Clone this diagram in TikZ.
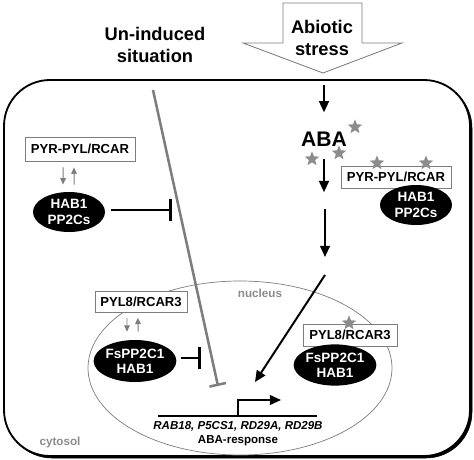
\documentclass[tikz,border=0pt]{standalone}
\usepackage{fontspec}
\setmainfont{Liberation Sans}
\usetikzlibrary{arrows.meta,shapes.geometric}
\definecolor{stargray}{RGB}{140,140,140}
\definecolor{linegray}{RGB}{125,125,125}
\begin{document}
\begin{tikzpicture}[x=0.025cm,y=-0.025cm,
  box/.style={draw=linegray,fill=white,line width=0.6pt,inner sep=0pt,
    font=\fontsize{9.3}{10}\selectfont\bfseries},
  pptwoc/.style={ellipse,fill=black,text=white,inner sep=0pt,align=center,
    font=\fontsize{9.6}{10.8}\selectfont\bfseries},
  abastar/.style={star,star points=5,star point ratio=2.3,fill=stargray,
    draw=none,minimum size=0.38cm,inner sep=0pt},
  flow/.style={-{Triangle[length=8pt,width=7pt]},line width=1.4pt},
  block/.style={-{Bar[width=15pt,line width=1.8pt]},line width=1.6pt},
  swap/.style={-{Triangle[length=4.5pt,width=4pt]},linegray,line width=0.7pt},
  place/.style={font=\fontsize{8.3}{9}\selectfont\bfseries,text=stargray}]
\useasboundingbox (0,0) rectangle (474,460);
%\draw[style=help lines,step=0.25cm] (0,0) grid (474,460);

% abiotic stress arrow
\draw[linegray,line width=0.6pt,fill=white] (283,3)--(362,3)--(362,43)--(402,43)
  --(323,73)--(243,43)--(283,43)--cycle;
\node[align=center,font=\fontsize{13}{15.5}\selectfont\bfseries] (stress) at (322,38) {Abiotic\\stress};
\node[align=center,font=\fontsize{13}{15.5}\selectfont\bfseries] (uninduced) at (155,45) {Un-induced\\situation};

% cell
\draw[fill=black,rounded corners=1.15cm] (6,82) rectangle (472,458);
\draw[fill=white,line width=1.3pt,rounded corners=1.15cm] (4,80) rectangle (470,456);
\node[place] (cytosol) at (60,442) {cytosol};

% nucleus
\draw[linegray,line width=0.5pt] (240,368) ellipse [x radius=152, y radius=87];
\node[place,anchor=west] (nucleus) at (233,293) {nucleus};

% un-induced: left side
\node[box,minimum width=2.75cm,minimum height=0.6cm] (pyrL) at (80,149) {PYR-PYL/RCAR};
\node[pptwoc,minimum width=1.8cm,minimum height=1cm] (habL) at (69,212) {HAB1\\PP2Cs};
\draw[swap] ([xshift=-0.42cm,yshift=-0.15cm]pyrL.south) -- ([xshift=-0.15cm,yshift=0.18cm]habL.north);
\draw[swap] ([xshift=0.13cm,yshift=0.18cm]habL.north) -- ([xshift=-0.15cm,yshift=-0.15cm]pyrL.south);
\coordinate (stopL) at (172,210);
\draw[block] ([xshift=0.15cm]habL.east |- stopL) -- (stopL);

\node[box,minimum width=2.3cm,minimum height=0.53cm] (pylL) at (141,302) {PYL8/RCAR3};
\node[pptwoc,minimum width=1.68cm,minimum height=1.05cm] (fsL) at (135,361) {FsPP2C1\\HAB1};
\draw[swap] ([xshift=-0.35cm,yshift=-0.12cm]pylL.south) -- ([xshift=-0.2cm,yshift=0.2cm]fsL.north);
\draw[swap] ([xshift=0.08cm,yshift=0.2cm]fsL.north) -- ([xshift=-0.08cm,yshift=-0.12cm]pylL.south);
\coordinate (stopN) at (201,358);
\draw[block] ([xshift=0.1cm]fsL.east |- stopN) -- (stopN);

% long gray block
\coordinate (g0) at (153,90);
\coordinate (g1) at (218,386);
\draw[linegray,line width=1.8pt,-{Bar[width=12pt,line width=1.8pt]}] (g0) -- (g1);

% abiotic stress: right side
\node[font=\fontsize{15}{15}\selectfont\bfseries] (aba) at (324,139) {ABA};
\coordinate (a0) at (324,85);
\draw[flow] (a0) -- ([yshift=0.36cm]aba.north);
\draw[flow] ([yshift=-0.2cm]aba.south) -- ++(0,33);
\node[box,minimum width=2.75cm,minimum height=0.55cm] (pyrR) at (396,177) {PYR-PYL/RCAR};
\node[pptwoc,minimum width=1.8cm,minimum height=1cm] (habR) at (416,205) {HAB1\\PP2Cs};
\coordinate (a2) at (325,209);
\coordinate (a3) at (325,257);
\draw[flow] (a2) -- (a3);
\coordinate (a4) at (325,275);
\coordinate (a5) at (255,382);
\draw[flow] (a4) -- (a5);

\node[box,minimum width=2.35cm,minimum height=0.55cm] (pylR) at (350,335) {PYL8/RCAR3};
\node[pptwoc,minimum width=1.58cm,minimum height=1.03cm] (fsR) at (335,365) {FsPP2C1\\HAB1};

% ABA molecules
\foreach \sx/\sy in {355/127,312/159,339/153,377/163,426/163,349/323}
  \node[abastar] at (\sx,\sy) {};

% target genes
\coordinate (gene0) at (158,416);
\coordinate (gene1) at (317,416);
\draw[line width=1.4pt] (gene0) -- (gene1);
\coordinate (tss) at (238,416);
\draw[line width=1.2pt,-{Triangle[length=8pt,width=7pt]}] (tss) -- ++(0,-16) -- ++(43,0);
\node[align=center,font=\fontsize{8.2}{10}\selectfont\bfseries] (genes) at (238,434)
  {\itshape RAB18, P5CS1, RD29A, RD29B\\ABA-response};

\end{tikzpicture}
\end{document}
